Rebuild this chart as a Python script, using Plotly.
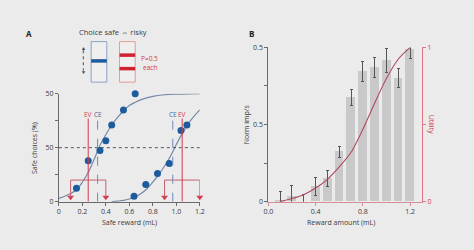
import plotly.graph_objects as go

W, H = 474, 250
def px(x): return x / W
def py(y): return 1 - y / H

# ---------------- data: panel A ----------------
left_x = [0.15, 0.25, 0.35, 0.40, 0.45, 0.55, 0.65]
left_y = [12.5, 37.8, 47.3, 56.5, 71.0, 85.0, 100.0]
right_x = [0.64, 0.74, 0.84, 0.94, 1.04, 1.09]
right_y = [5.0, 16.0, 26.0, 35.4, 65.8, 71.0]

left_fit_x = [0, 0.05, 0.1, 0.15, 0.2, 0.25, 0.3, 0.35, 0.4, 0.45, 0.5, 0.55, 0.6, 0.65, 0.7, 0.8, 0.9, 1.0, 1.1, 1.2]
left_fit_y = [3, 5, 7.5, 11, 18, 27, 39, 52, 62, 71, 78, 84, 89, 92, 94.5, 97.5, 99, 99.6, 99.9, 100]
right_fit_x = [0.45, 0.5, 0.55, 0.6, 0.65, 0.7, 0.75, 0.8, 0.85, 0.9, 0.95, 1.0, 1.05, 1.1, 1.15, 1.2]
right_fit_y = [0, 0.5, 1.2, 2.5, 4.5, 7.5, 12, 18, 25, 33, 42, 53, 63, 72, 79, 85]

ev_x = [0.25, 1.05]
ce_x = [0.33, 0.97]
bracket_x = [(0.1, 0.4), (0.9, 1.2)]
bracket_level = 20
indiff_level = 50
a_xticks = [0, 0.2, 0.4, 0.6, 0.8, 1.0, 1.2]
a_xticklabels = ["0", "0.2", "0.4", "0.6", "0.8", "1.0", "1.2"]
a_yticks = [0, 25, 50, 75, 100]
a_yticklabels = ["0", "", "50", "", "50"]

# ---------------- data: panel B ----------------
reward = [0.1, 0.2, 0.3, 0.4, 0.5, 0.6, 0.7, 0.8, 0.9, 1.0, 1.1, 1.2]
norm_imp = [0.003, 0.035, 0.0, 0.098, 0.15, 0.323, 0.675, 0.842, 0.869, 0.915, 0.80, 0.9875]
norm_err = [0.06, 0.07, 0.045, 0.06, 0.05, 0.036, 0.052, 0.065, 0.065, 0.08, 0.0625, 0.057]
utility = [0.0, 0.02, 0.045, 0.088, 0.145, 0.225, 0.32, 0.47, 0.64, 0.80, 0.925, 1.0]
b_xticks = [0, 0.4, 0.8, 1.2]
b_xticklabels = ["0.0", "0.4", "0.8", "1.2"]
b_yticks = [0, 0.25, 0.5, 0.75, 1.0]
b_yticklabels = ["0", "", "0.5", "", "0.5"]
u_ticks = [0, 0.5, 1]
u_ticklabels = ["0", "", "1"]

BLUE = "#1d5c9c"
FITC = "#7389a6"
RED = "#d23a4e"
REDL = "#c8606e"
GRAY = "#6a6a6a"
TXT = "#3a3a3a"
BG = "#ebebeb"
FONT = "Open Sans"

fig = go.Figure()

fig.add_trace(go.Scatter(x=left_fit_x, y=left_fit_y, mode="lines", line=dict(color=FITC, width=1.2, shape="spline"),
                         xaxis="x", yaxis="y", hoverinfo="skip", cliponaxis=False))
fig.add_trace(go.Scatter(x=right_fit_x, y=right_fit_y, mode="lines", line=dict(color=FITC, width=1.2, shape="spline"),
                         xaxis="x", yaxis="y", hoverinfo="skip", cliponaxis=False))

shapes = []
annotations = []

def ann(x, y, text, size=7, color=TXT, angle=0, bold=False):
    annotations.append(dict(xref="paper", yref="paper", x=px(x), y=py(y), text=f"<b>{text}</b>" if bold else text,
                            showarrow=False, xanchor="center", yanchor="middle", textangle=angle,
                            font=dict(family=FONT, size=size, color=color)))

shapes.append(dict(type="line", xref="x", yref="y", x0=a_xticks[0], x1=a_xticks[-1], y0=indiff_level, y1=indiff_level,
                   line=dict(color="#444", width=0.9, dash="dot")))
tri_x, tri_y = [], []
for (b0, b1) in bracket_x:
    shapes.append(dict(type="line", xref="x", yref="y", x0=b0, x1=b1, y0=bracket_level, y1=bracket_level,
                       line=dict(color=REDL, width=1)))
    for b in (b0, b1):
        shapes.append(dict(type="line", xref="x", yref="y", x0=b, x1=b, y0=bracket_level, y1=4,
                           line=dict(color=REDL, width=1)))
        tri_x.append(b); tri_y.append(4)
for e in ev_x:
    shapes.append(dict(type="line", xref="x", yref="y", x0=e, x1=e, y0=0, y1=77, line=dict(color=RED, width=1)))
    annotations.append(dict(xref="x", yref="y", x=e, y=81, text="EV", showarrow=False,
                            xanchor="center", yanchor="middle", font=dict(family=FONT, size=6.5, color=RED)))
for c in ce_x:
    shapes.append(dict(type="line", xref="x", yref="y", x0=c, x1=c, y0=0, y1=77,
                       line=dict(color="#6c8cbc", width=1, dash="dash")))
    annotations.append(dict(xref="x", yref="y", x=c, y=81, text="CE", showarrow=False,
                            xanchor="center", yanchor="middle", font=dict(family=FONT, size=6.5, color="#3f6aa8")))

fig.add_trace(go.Scatter(x=tri_x, y=tri_y, mode="markers", marker=dict(symbol="triangle-down", size=6, color=RED),
                         xaxis="x", yaxis="y", hoverinfo="skip", cliponaxis=False))
fig.add_trace(go.Scatter(x=left_x + right_x, y=left_y + right_y, mode="markers",
                         marker=dict(color=BLUE, size=7), xaxis="x", yaxis="y", cliponaxis=False))

fig.add_trace(go.Bar(x=reward, y=norm_imp, width=0.075, marker=dict(color="#c9c9c9", line=dict(width=0)),
                     error_y=dict(type="data", array=norm_err, color="#555", thickness=1, width=1.5),
                     xaxis="x2", yaxis="y2"))
fig.add_trace(go.Scatter(x=reward, y=utility, mode="lines",
                         line=dict(color="#b04a5c", width=1.1, shape="spline", smoothing=0.7),
                         xaxis="x2", yaxis="y3", hoverinfo="skip", cliponaxis=False))

shapes += [
    dict(type="rect", xref="paper", yref="paper", x0=px(88), x1=px(104), y0=py(80), y1=py(38),
         line=dict(color="#8aa2c4", width=1), fillcolor="#efefef"),
    dict(type="line", xref="paper", yref="paper", x0=px(88), x1=px(104), y0=py(58), y1=py(58),
         line=dict(color=BLUE, width=3.5)),
    dict(type="rect", xref="paper", yref="paper", x0=px(117), x1=px(133), y0=py(80), y1=py(38),
         line=dict(color="#e29a9a", width=1), fillcolor="#efefef"),
    dict(type="line", xref="paper", yref="paper", x0=px(117), x1=px(133), y0=py(52), y1=py(52),
         line=dict(color="#d1202e", width=3.5)),
    dict(type="line", xref="paper", yref="paper", x0=px(117), x1=px(133), y0=py(66), y1=py(66),
         line=dict(color="#d1202e", width=3.5)),
    dict(type="line", xref="paper", yref="paper", x0=px(80), x1=px(80), y0=py(47), y1=py(68),
         line=dict(color="#3a4a6a", width=1, dash="dot")),
]
ann(80, 45, "▲", size=5, color="#2a3a5a")
ann(80, 70, "▼", size=5, color="#2a3a5a")
ann(110, 28, "Choice safe ⇔ risky", size=7.5)
ann(148, 56, "P=0.5", size=6.5, color=RED)
ann(148, 64.5, "each", size=6.5, color=RED)
ann(25, 30, "A", size=8, color="#222", bold=True)
ann(252, 30, "B", size=8, color="#222", bold=True)
ann(30, 148, "Safe choices (%)", angle=-90)
ann(127, 226, "Safe reward (mL)")
ann(247, 124, "Norm imp/s", angle=-90)
ann(343, 226, "Reward amount (mL)")
ann(436, 124, "Utility", color=RED, angle=90)

tickfont = dict(family=FONT, size=7, color=TXT)
fig.update_layout(
    width=W, height=H, margin=dict(l=0, r=0, t=0, b=0),
    paper_bgcolor=BG, plot_bgcolor=BG, showlegend=False, bargap=0,
    shapes=shapes, annotations=annotations,
    xaxis=dict(domain=[px(55), px(199)], range=[0, 1.2], tickvals=a_xticks, ticktext=a_xticklabels,
               showline=True, linecolor=GRAY, linewidth=1, ticks="outside", ticklen=3, tickcolor=GRAY,
               showgrid=False, zeroline=False, tickfont=tickfont, anchor="y"),
    yaxis=dict(domain=[py(204), py(92)], range=[0, 100], tickvals=a_yticks, ticktext=a_yticklabels,
               showline=True, linecolor=GRAY, linewidth=1, ticks="outside", ticklen=3, tickcolor=GRAY,
               showgrid=False, zeroline=False, tickfont=tickfont, anchor="x"),
    xaxis2=dict(domain=[px(269), px(426)], range=[0, 1.3], tickvals=b_xticks, ticktext=b_xticklabels,
                showline=True, linecolor="#d58d98", linewidth=1, ticks="outside", ticklen=3, tickcolor="#d58d98",
                showgrid=False, zeroline=False, tickfont=tickfont, anchor="y2"),
    yaxis2=dict(domain=[py(204), py(44)], range=[0, 1], tickvals=b_yticks, ticktext=b_yticklabels,
                showline=True, linecolor=GRAY, linewidth=1, ticks="outside", ticklen=3, tickcolor=GRAY,
                showgrid=False, zeroline=False, tickfont=tickfont, anchor="x2"),
    yaxis3=dict(domain=[py(204), py(44)], range=[0, 1], tickvals=u_ticks, ticktext=u_ticklabels,
                overlaying="y2", side="right", anchor="x2",
                showline=True, linecolor="#df7585", linewidth=1, ticks="outside", ticklen=3, tickcolor="#df7585",
                showgrid=False, zeroline=False, tickfont=dict(family=FONT, size=7, color=RED)),
)

fig.write_html("out.html")
